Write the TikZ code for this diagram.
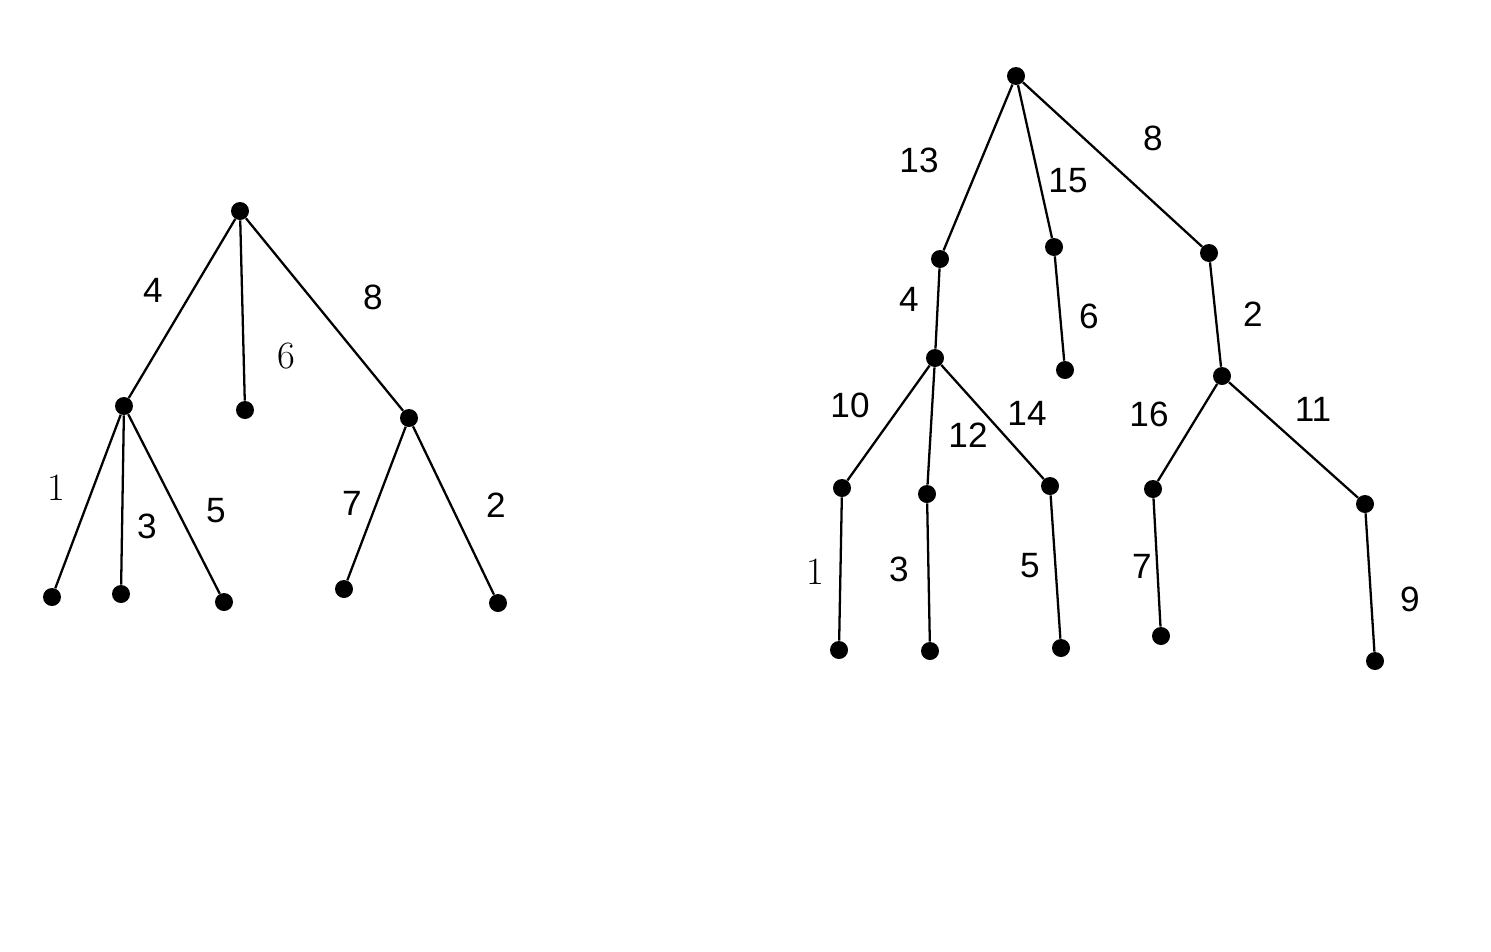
\documentclass[tikz,border=0pt]{standalone}
\usepackage{fontspec}
\setmainfont{Liberation Sans}
\newfontfamily\serifnum{Latin Modern Roman}
\begin{document}
\begin{tikzpicture}[x=0.02cm,y=-0.02cm,
  dot/.style={circle,fill=black,inner sep=0pt,minimum size=0.36cm},
  lbl/.style={font=\fontsize{20}{24}\selectfont},
  slbl/.style={font=\serifnum\fontsize{22}{26}\selectfont},
  edge/.style={line width=1.3pt}]
\useasboundingbox[fill=white] (0,0) rectangle (1491,951);
% left tree
\foreach \n/\x/\y in {r/240/211,a/124/406,b/245/410,c/409/418,l1/52/597,l2/121/594,l3/224/602,l4/344/589,l5/498/603}
  \node[dot] (\n) at (\x,\y) {};
\foreach \u/\v in {r/a,r/b,r/c,a/l1,a/l2,a/l3,c/l4,c/l5}
  \draw[edge] (\u) -- (\v);
\node[lbl] (t4) at (153,290) {4};
\node[slbl] (t6) at (286,356) {6};
\node[lbl] (t8) at (373,297) {8};
\node[slbl] (t1) at (56,488) {1};
\node[lbl] (t3) at (147,526) {3};
\node[lbl] (t5) at (216,511) {5};
\node[lbl] (t7) at (352,503) {7};
\node[lbl] (t2) at (496,505) {2};
% right tree
\foreach \n/\x/\y in {R/1016/76,A/940/259,B/1054/247,C/1209/253,Bl/1065/370,D/935/358,E/1222/376,
  D1/842/488,D2/927/494,D3/1050/486,D1l/839/650,D2l/930/651,D3l/1061/648,
  E1/1153/489,E2/1365/504,E1l/1161/636,E2l/1375/661}
  \node[dot] (\n) at (\x,\y) {};
\foreach \u/\v in {R/A,R/B,R/C,B/Bl,A/D,C/E,D/D1,D/D2,D/D3,D1/D1l,D2/D2l,D3/D3l,E/E1,E/E2,E1/E1l,E2/E2l}
  \draw[edge] (\u) -- (\v);
\node[lbl] (u13) at (919,160) {13};
\node[lbl] (u15) at (1068,181) {15};
\node[lbl] (u8) at (1153,138) {8};
\node[lbl] (u4) at (909,299) {4};
\node[lbl] (u6) at (1089,316) {6};
\node[lbl] (u2) at (1253,314) {2};
\node[lbl] (u10) at (850,405) {10};
\node[lbl] (u12) at (968,435) {12};
\node[lbl] (u14) at (1027,413) {14};
\node[lbl] (u16) at (1149,414) {16};
\node[lbl] (u11) at (1313,409) {11};
\node[slbl] (u1) at (815,572) {1};
\node[lbl] (u3) at (899,569) {3};
\node[lbl] (u5) at (1030,566) {5};
\node[lbl] (u7) at (1142,566) {7};
\node[lbl] (u9) at (1410,599) {9};
\end{tikzpicture}
\end{document}
